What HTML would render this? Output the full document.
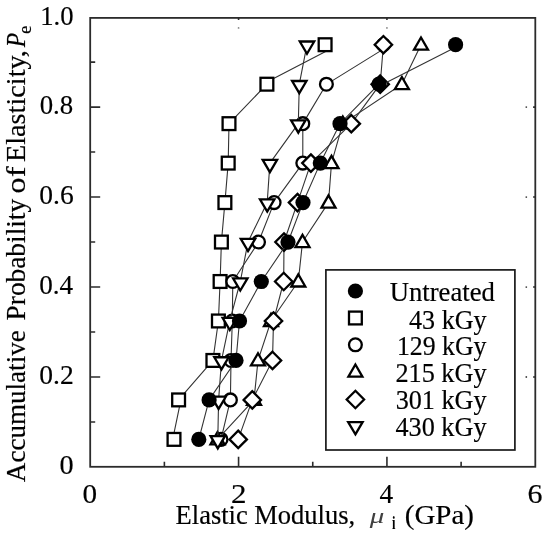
<!DOCTYPE html>
<html><head><meta charset="utf-8"><style>
html,body{margin:0;padding:0;background:#fff;}
svg{display:block;}
.ax{fill:none;stroke:#2b2b2b;stroke-width:1.8;}
.tk{fill:none;stroke:#2b2b2b;stroke-width:1.6;}
.lg{fill:#fff;stroke:#1a1a1a;stroke-width:1.7;}
.ln{fill:none;stroke:#333;stroke-width:1.1;}
.m{fill:#fff;stroke:#000;stroke-width:2.3;}
.f{fill:#000;stroke:none;}
.t{font-family:"Liberation Serif",serif;fill:#000;stroke:#000;stroke-width:0.18;}
</style></head><body>
<svg width="550" height="537" viewBox="0 0 550 537">
<rect x="90.2" y="17.9" width="445.1" height="448.9" class="ax"/>
<path d="M164.38 466.8V461.8M238.57 466.8V456.8M312.75 466.8V461.8M386.93 466.8V456.8M461.12 466.8V461.8M90.2 422.01H95.2M90.2 377.02H100.2M90.2 332.03H95.2M90.2 287.04H100.2M90.2 242.05H95.2M90.2 197.06H100.2M90.2 152.07H95.2M90.2 107.08H100.2M90.2 62.09H95.2" class="tk"/>
<circle cx="238.57" cy="27.9" r="0.9" fill="#888"/>
<circle cx="386.93" cy="27.9" r="0.9" fill="#888"/>
<circle cx="526.3" cy="377.02" r="0.9" fill="#444"/>
<circle cx="526.3" cy="287.04" r="0.9" fill="#444"/>
<circle cx="526.3" cy="197.06" r="0.9" fill="#444"/>
<circle cx="526.3" cy="107.08" r="0.9" fill="#444"/>
<path d="M535.3 377.02H533.0999999999999M535.3 287.04H533.0999999999999M535.3 197.06H533.0999999999999M535.3 107.08H533.0999999999999M238.57 17.9V20.099999999999998M386.93 17.9V20.099999999999998" class="tk"/>
<path d="M172.70 439.40L180.90 399.90M178.60 399.91L212.90 360.45M212.90 360.45L218.40 320.98M218.40 320.98L220.10 281.51M220.10 281.51L221.40 242.05M221.40 242.05L224.90 202.58M224.90 202.58L228.20 163.12M228.20 163.12L229.00 123.65M229.00 123.65L266.90 84.19M266.90 82.10L329.00 49.70" class="ln"/>
<rect x="167.60" y="432.98" width="12.8" height="12.8" class="m"/>
<rect x="172.20" y="393.51" width="12.8" height="12.8" class="m"/>
<rect x="206.50" y="354.05" width="12.8" height="12.8" class="m"/>
<rect x="212.00" y="314.58" width="12.8" height="12.8" class="m"/>
<rect x="213.70" y="275.11" width="12.8" height="12.8" class="m"/>
<rect x="215.00" y="235.65" width="12.8" height="12.8" class="m"/>
<rect x="218.50" y="196.18" width="12.8" height="12.8" class="m"/>
<rect x="221.80" y="156.72" width="12.8" height="12.8" class="m"/>
<rect x="222.60" y="117.25" width="12.8" height="12.8" class="m"/>
<rect x="260.50" y="77.79" width="12.8" height="12.8" class="m"/>
<rect x="318.70" y="38.32" width="12.8" height="12.8" class="m"/>
<path d="M221.00 439.38L230.40 399.91M230.40 399.91L231.00 360.45M231.00 360.45L232.30 320.98M232.30 320.98L232.80 281.51M232.80 281.51L258.50 242.05M258.50 242.05L274.10 202.58M274.10 202.58L302.80 163.12M302.80 163.12L302.80 123.65M302.80 123.65L326.40 84.19M326.40 84.40L383.40 49.10" class="ln"/>
<circle cx="221.00" cy="439.38" r="6.4" class="m"/>
<circle cx="230.40" cy="399.91" r="6.4" class="m"/>
<circle cx="231.00" cy="360.45" r="6.4" class="m"/>
<circle cx="232.30" cy="320.98" r="6.4" class="m"/>
<circle cx="232.80" cy="281.51" r="6.4" class="m"/>
<circle cx="258.50" cy="242.05" r="6.4" class="m"/>
<circle cx="274.10" cy="202.58" r="6.4" class="m"/>
<circle cx="302.80" cy="163.12" r="6.4" class="m"/>
<circle cx="302.80" cy="123.65" r="6.4" class="m"/>
<circle cx="326.40" cy="84.19" r="6.4" class="m"/>
<circle cx="383.40" cy="44.72" r="6.4" class="m"/>
<path d="M217.50 439.38L254.00 399.91M254.00 399.91L258.00 360.45M258.00 360.45L271.00 320.98M271.00 320.98L298.30 281.51M298.30 281.51L302.50 242.05M302.50 242.05L328.50 202.58M328.50 202.58L331.50 163.12M331.50 163.12L342.80 123.65M342.80 123.65L401.90 84.19M401.90 84.19L421.00 44.72" class="ln"/>
<path d="M217.50 432.18L224.50 444.38L210.50 444.38Z" class="m"/>
<path d="M254.00 392.71L261.00 404.91L247.00 404.91Z" class="m"/>
<path d="M258.00 353.25L265.00 365.45L251.00 365.45Z" class="m"/>
<path d="M271.00 313.78L278.00 325.98L264.00 325.98Z" class="m"/>
<path d="M298.30 274.31L305.30 286.51L291.30 286.51Z" class="m"/>
<path d="M302.50 234.85L309.50 247.05L295.50 247.05Z" class="m"/>
<path d="M328.50 195.38L335.50 207.58L321.50 207.58Z" class="m"/>
<path d="M331.50 155.92L338.50 168.12L324.50 168.12Z" class="m"/>
<path d="M342.80 116.45L349.80 128.65L335.80 128.65Z" class="m"/>
<path d="M401.90 76.99L408.90 89.19L394.90 89.19Z" class="m"/>
<path d="M421.00 37.52L428.00 49.72L414.00 49.72Z" class="m"/>
<path d="M238.20 439.38L252.30 399.91M252.30 399.91L272.50 360.45M272.50 360.45L273.50 320.98M273.50 320.98L283.70 281.51M283.70 281.51L284.00 242.05M284.00 242.05L297.50 202.58M297.50 202.58L310.90 163.12M310.90 163.12L351.30 123.65M351.30 123.65L380.20 84.19M380.20 84.19L383.40 44.72" class="ln"/>
<path d="M238.20 430.68L246.90 439.38L238.20 448.08L229.50 439.38Z" class="m"/>
<path d="M252.30 391.21L261.00 399.91L252.30 408.61L243.60 399.91Z" class="m"/>
<path d="M272.50 351.75L281.20 360.45L272.50 369.15L263.80 360.45Z" class="m"/>
<path d="M273.50 312.28L282.20 320.98L273.50 329.68L264.80 320.98Z" class="m"/>
<path d="M283.70 272.81L292.40 281.51L283.70 290.21L275.00 281.51Z" class="m"/>
<path d="M284.00 233.35L292.70 242.05L284.00 250.75L275.30 242.05Z" class="m"/>
<path d="M297.50 193.88L306.20 202.58L297.50 211.28L288.80 202.58Z" class="m"/>
<path d="M310.90 154.42L319.60 163.12L310.90 171.82L302.20 163.12Z" class="m"/>
<path d="M351.30 114.95L360.00 123.65L351.30 132.35L342.60 123.65Z" class="m"/>
<path d="M380.20 75.49L388.90 84.19L380.20 92.89L371.50 84.19Z" class="m"/>
<path d="M383.40 36.02L392.10 44.72L383.40 53.42L374.70 44.72Z" class="m"/>
<path d="M217.80 439.38L218.60 399.91M218.60 399.91L221.50 360.45M221.50 360.45L229.80 320.98M229.80 320.98L240.30 281.51M240.30 281.51L248.00 242.05M248.00 242.05L267.20 202.58M267.20 202.58L269.90 163.12M269.90 163.12L298.30 123.65M298.30 123.65L299.30 84.19M299.30 84.19L307.00 44.72" class="ln"/>
<path d="M217.80 448.38L225.00 436.18L210.60 436.18Z" class="m"/>
<path d="M218.60 408.91L225.80 396.71L211.40 396.71Z" class="m"/>
<path d="M221.50 369.45L228.70 357.25L214.30 357.25Z" class="m"/>
<path d="M229.80 329.98L237.00 317.78L222.60 317.78Z" class="m"/>
<path d="M240.30 290.51L247.50 278.31L233.10 278.31Z" class="m"/>
<path d="M248.00 251.05L255.20 238.85L240.80 238.85Z" class="m"/>
<path d="M267.20 211.58L274.40 199.38L260.00 199.38Z" class="m"/>
<path d="M269.90 172.12L277.10 159.92L262.70 159.92Z" class="m"/>
<path d="M298.30 132.65L305.50 120.45L291.10 120.45Z" class="m"/>
<path d="M299.30 93.19L306.50 80.99L292.10 80.99Z" class="m"/>
<path d="M307.00 53.72L314.20 41.52L299.80 41.52Z" class="m"/>
<path d="M198.80 439.38L209.10 399.91M209.10 399.91L236.00 360.45M236.00 360.45L239.50 320.98M239.50 320.98L261.30 281.51M261.30 281.51L288.00 242.05M288.00 242.05L303.00 202.58M303.00 202.58L320.30 163.12M320.30 163.12L340.00 123.65M340.00 123.65L379.00 84.19M379.00 86.30L455.60 47.20" class="ln"/>
<circle cx="198.80" cy="439.38" r="7.6" class="f"/>
<circle cx="209.10" cy="399.91" r="7.6" class="f"/>
<circle cx="236.00" cy="360.45" r="7.6" class="f"/>
<circle cx="239.50" cy="320.98" r="7.6" class="f"/>
<circle cx="261.30" cy="281.51" r="7.6" class="f"/>
<circle cx="288.00" cy="242.05" r="7.6" class="f"/>
<circle cx="303.00" cy="202.58" r="7.6" class="f"/>
<circle cx="320.30" cy="163.12" r="7.6" class="f"/>
<circle cx="340.00" cy="123.65" r="7.6" class="f"/>
<circle cx="379.00" cy="84.19" r="7.6" class="f"/>
<circle cx="455.60" cy="44.72" r="7.6" class="f"/>
<rect x="325.9" y="269.9" width="189" height="180.1" class="lg"/>
<circle cx="355.40" cy="291.00" r="7.6" class="f"/>
<rect x="349.00" y="311.60" width="12.8" height="12.8" class="m"/>
<circle cx="355.40" cy="344.80" r="6.4" class="m"/>
<path d="M355.40 364.50L362.40 376.70L348.40 376.70Z" class="m"/>
<path d="M355.40 390.80L364.10 399.50L355.40 408.20L346.70 399.50Z" class="m"/>
<path d="M355.40 434.30L362.60 422.10L348.20 422.10Z" class="m"/>
<g class="t"><text x="389.67" y="301.20" font-size="26.5" textLength="105.17" lengthAdjust="spacingAndGlyphs">Untreated</text>
<text x="409.08" y="328.60" font-size="26.5" textLength="77.44" lengthAdjust="spacingAndGlyphs">43 kGy</text>
<text x="396.94" y="355.20" font-size="26.5" textLength="89.58" lengthAdjust="spacingAndGlyphs">129 kGy</text>
<text x="395.42" y="382.00" font-size="26.5" textLength="91.10" lengthAdjust="spacingAndGlyphs">215 kGy</text>
<text x="395.66" y="409.20" font-size="26.5" textLength="90.87" lengthAdjust="spacingAndGlyphs">301 kGy</text>
<text x="395.48" y="436.00" font-size="26.5" textLength="91.05" lengthAdjust="spacingAndGlyphs">430 kGy</text>
<text x="40.17" y="24.50" font-size="27.5" textLength="33.33" lengthAdjust="spacingAndGlyphs">1.0</text>
<text x="39.69" y="114.40" font-size="27.5" textLength="33.51" lengthAdjust="spacingAndGlyphs">0.8</text>
<text x="39.27" y="204.40" font-size="27.5" textLength="34.36" lengthAdjust="spacingAndGlyphs">0.6</text>
<text x="39.28" y="294.30" font-size="27.5" textLength="33.92" lengthAdjust="spacingAndGlyphs">0.4</text>
<text x="39.27" y="384.30" font-size="27.5" textLength="34.45" lengthAdjust="spacingAndGlyphs">0.2</text>
<text x="59.64" y="474.30" font-size="27.5" textLength="14.12" lengthAdjust="spacingAndGlyphs">0</text>
<text x="82.41" y="502.80" font-size="27.5" textLength="14.59" lengthAdjust="spacingAndGlyphs">0</text>
<text x="231.10" y="502.80" font-size="27.5" textLength="15.50" lengthAdjust="spacingAndGlyphs">2</text>
<text x="379.45" y="502.80" font-size="27.5" textLength="13.66" lengthAdjust="spacingAndGlyphs">4</text>
<text x="527.53" y="502.80" font-size="27.5" textLength="14.97" lengthAdjust="spacingAndGlyphs">6</text>
<text x="175.61" y="523.80" font-size="26.5" textLength="179.55" lengthAdjust="spacingAndGlyphs">Elastic Modulus,</text>
<text x="369.80" y="523.30" font-size="21.5" textLength="14.60" lengthAdjust="spacingAndGlyphs" font-style="italic" fill="#404040" stroke="none">μ</text>
<text x="391.95" y="529.20" font-size="18.5" textLength="3.47" lengthAdjust="spacingAndGlyphs" font-weight="bold" stroke="none">i</text>
<text x="404.80" y="523.80" font-size="26.5" textLength="69.16" lengthAdjust="spacingAndGlyphs">(GPa)</text>
<g transform="translate(0 482.0) rotate(-90)"><text x="-0.17" y="25.20" font-size="27.3" textLength="151.89" lengthAdjust="spacingAndGlyphs">Accumulative</text><text x="161.58" y="25.20" font-size="27.3" textLength="121.54" lengthAdjust="spacingAndGlyphs">Probability</text><text x="288.37" y="25.20" font-size="27.3" textLength="27.24" lengthAdjust="spacingAndGlyphs">of</text><text x="319.95" y="25.20" font-size="27.3" textLength="111.90" lengthAdjust="spacingAndGlyphs">Elasticity,</text><text x="434.72" y="25.20" font-size="27.3" textLength="14.29" lengthAdjust="spacingAndGlyphs" font-style="italic">P</text><text x="448.04" y="31.00" font-size="19.0" textLength="8.40" lengthAdjust="spacingAndGlyphs">e</text></g></g>
</svg>
</body></html>
